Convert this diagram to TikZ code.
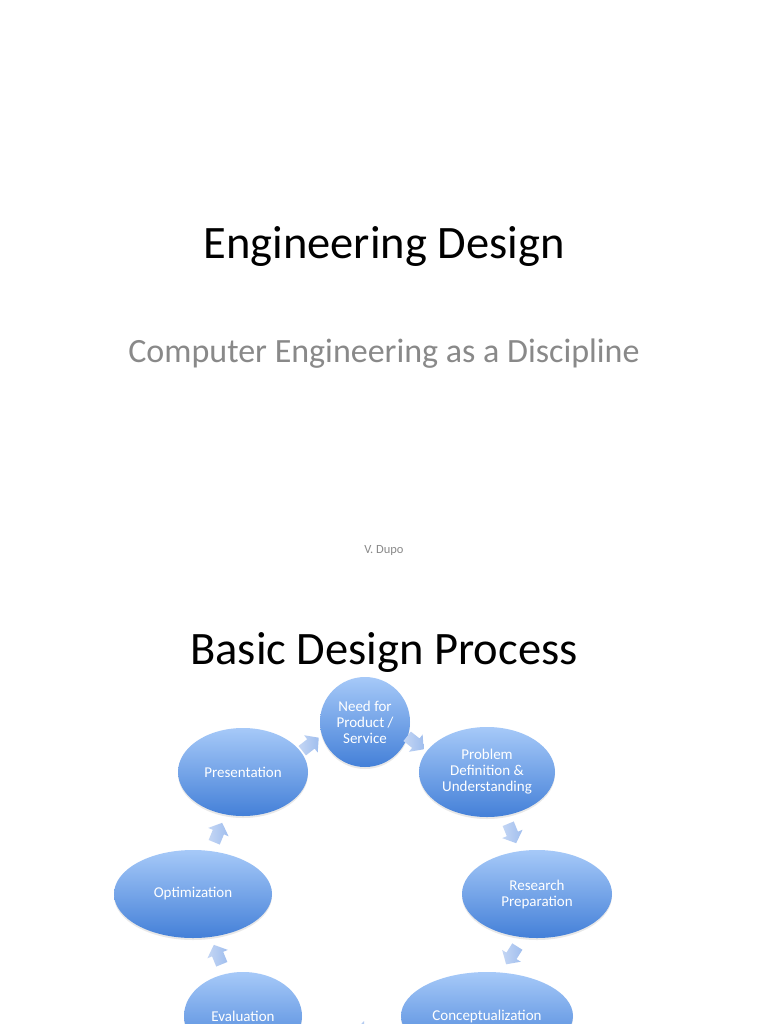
\documentclass[tikz,border=0pt]{standalone}
\usepackage{fontspec}
\setmainfont{Carlito}
\usepackage{tikz}
\usetikzlibrary{shapes.geometric, calc, shadows}
\definecolor{EDBlueTop}{RGB}{166,201,248}
\definecolor{EDBlueBot}{RGB}{68,128,216}
\definecolor{EDArrowA}{RGB}{196,214,244}
\definecolor{EDArrowB}{RGB}{160,190,238}
\definecolor{EDGray}{RGB}{137,137,137}
\tikzset{
  stage/.style={ellipse, inner sep=0pt, draw=none, text=white,
                font=\fontsize{15}{16}\selectfont, align=center,
                top color=EDBlueTop, bottom color=EDBlueBot,
                drop shadow={opacity=0.18, shadow xshift=0pt,
                             shadow yshift=-2pt}},
  cyclearrow/.pic={
    \shade[left color=EDArrowA, right color=EDArrowB]
      (-10,-6) -- (1,-6) -- (1,-11) -- (11,0) -- (1,11) -- (1,6)
      -- (-10,6) -- cycle;
  }
}

\begin{document}
\begin{tikzpicture}[x=1pt, y=-1pt]
  \useasboundingbox (0,0) rectangle (768,1024);
  \fill[white] (0,0) rectangle (768,1024);
  \clip (0,0) rectangle (768,1024);

  % title slide
  \node (title) at (384,247) {\fontsize{46.5}{54}\selectfont Engineering Design};
  \node[text=EDGray] (subtitle) at (384,354)
        {\fontsize{34}{40}\selectfont Computer Engineering as a Discipline};
  \node[text=EDGray] (author) at (384,550) {\fontsize{12.5}{14}\selectfont V. Dupo};

  % process slide
  \node (process) at (384,652) {\fontsize{46.5}{54}\selectfont Basic Design Process};

  \foreach \name/\x/\y/\w/\h/\txt in {
      need/365/722/90/90/{Need for\\Product /\\Service},
      prob/487/772/136/90/{Problem\\Definition \&\\Understanding},
      pres/243/772/130/88/{Presentation},
      res/537/894/150/88/{Research\\Preparation},
      opt/193/894/158/88/{Optimization},
      conc/487/1016/172/88/{Conceptualization},
      eval/243/1016/118/88/{Evaluation}} {
    \node[stage, minimum width=\w pt, minimum height=\h pt] (\name)
          at (\x,\y) {\txt};
  }

  % block arrows between the stages
  \foreach \a/\b/\t/\turn/\dy in {need/prob/0.41/-16/0, prob/res/0.5/0/0,
                                  res/conc/0.5/-10/0, conc/eval/0.5/0/16,
                                  eval/opt/0.5/0/0, opt/pres/0.5/0/0,
                                  pres/need/0.55/16/0} {
    \path let \p1=($(\b)-(\a)$), \n1={atan2(\y1,\x1)+\turn} in
      pic[rotate=\n1] at ($(\a)!\t!(\b)+(0,\dy)$) {cyclearrow};
  }
\end{tikzpicture}
\end{document}
